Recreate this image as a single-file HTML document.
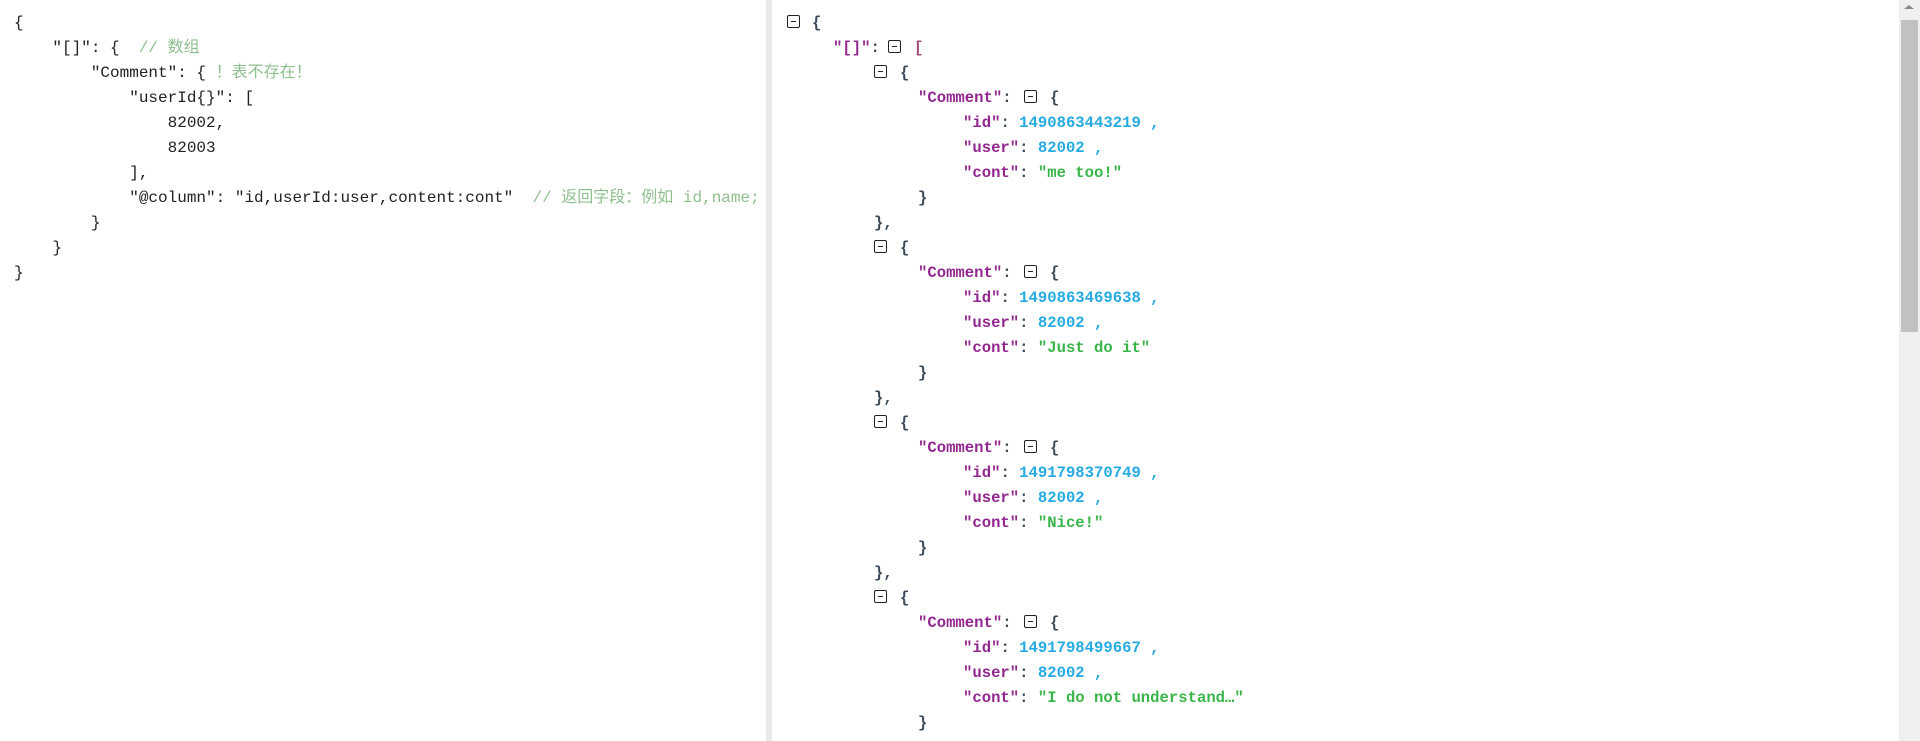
<!DOCTYPE html>
<html><head><meta charset="utf-8"><style>
html,body{margin:0;padding:0;width:1920px;height:741px;overflow:hidden;background:#fff;}
.l{position:absolute;white-space:pre;font-family:"Liberation Mono","Noto Sans CJK SC",monospace;font-size:15.6px;line-height:25px;height:25px;}
#left{position:absolute;left:0;top:0;width:766px;height:741px;overflow:hidden;color:#222;}
#left .l{font-size:16px;}
.c{color:#8fbf8f;}
#div{position:absolute;left:766px;top:0;width:6px;height:741px;background:#e9e9e9;}
#right .l{font-weight:bold;color:#3a4a5a;}
.k{color:#92278f;}.n{color:#25aae2;}.s{color:#3ab54a;}.b{color:#a0507a;}
.t{position:absolute;width:11px;height:11px;border:1px solid #222;border-radius:2px;background:#fff;}
.t:after{content:"";position:absolute;left:3px;top:5px;width:5px;height:1px;background:#222;}
#sb{position:absolute;left:1899px;top:0;width:21px;height:741px;background:#f0f0f0;}
#th{position:absolute;left:1901px;top:20px;width:17px;height:312px;background:#c1c1c1;}
#ar{position:absolute;left:1904px;top:5px;width:0;height:0;border-left:5px solid transparent;border-right:5px solid transparent;border-bottom:4px solid #8a8a8a;}
</style></head><body>
<div id="left">
<div class="l" style="left:14px;top:11px">{</div>
<div class="l" style="left:14px;top:36px">    "[]": {  <span class="c">// 数组</span></div>
<div class="l" style="left:14px;top:61px">        "Comment": { <span class="c">！表不存在！</span></div>
<div class="l" style="left:14px;top:86px">            "userId{}": [</div>
<div class="l" style="left:14px;top:111px">                82002,</div>
<div class="l" style="left:14px;top:136px">                82003</div>
<div class="l" style="left:14px;top:161px">            ],</div>
<div class="l" style="left:14px;top:186px">            "@column": "id,userId:user,content:cont"  <span class="c">// 返回字段：例如 id,name;</span></div>
<div class="l" style="left:14px;top:211px">        }</div>
<div class="l" style="left:14px;top:236px">    }</div>
<div class="l" style="left:14px;top:261px">}</div>
</div>
<div id="div"></div>
<div id="right">
<div class="t" style="left:787px;top:15px"></div>
<div class="l" style="left:812px;top:11px">{</div>
<div class="l" style="left:833px;top:36px"><span class="k">"[]"</span>: </div>
<div class="t" style="left:888px;top:40px"></div>
<div class="l" style="left:914px;top:36px"><span class="b">[</span></div>

<div class="t" style="left:874px;top:65px"></div><div class="l" style="left:900px;top:61px">{</div>
<div class="l" style="left:918px;top:86px"><span class="k">"Comment"</span>: </div><div class="t" style="left:1024px;top:90px"></div><div class="l" style="left:1050px;top:86px">{</div>
<div class="l" style="left:963px;top:111px"><span class="k">"id"</span>: <span class="n">1490863443219 ,</span></div>
<div class="l" style="left:963px;top:136px"><span class="k">"user"</span>: <span class="n">82002 ,</span></div>
<div class="l" style="left:963px;top:161px"><span class="k">"cont"</span>: <span class="s">"me too!"</span></div>
<div class="l" style="left:918px;top:186px">}</div>
<div class="l" style="left:874px;top:211px">},</div>

<div class="t" style="left:874px;top:240px"></div><div class="l" style="left:900px;top:236px">{</div>
<div class="l" style="left:918px;top:261px"><span class="k">"Comment"</span>: </div><div class="t" style="left:1024px;top:265px"></div><div class="l" style="left:1050px;top:261px">{</div>
<div class="l" style="left:963px;top:286px"><span class="k">"id"</span>: <span class="n">1490863469638 ,</span></div>
<div class="l" style="left:963px;top:311px"><span class="k">"user"</span>: <span class="n">82002 ,</span></div>
<div class="l" style="left:963px;top:336px"><span class="k">"cont"</span>: <span class="s">"Just do it"</span></div>
<div class="l" style="left:918px;top:361px">}</div>
<div class="l" style="left:874px;top:386px">},</div>

<div class="t" style="left:874px;top:415px"></div><div class="l" style="left:900px;top:411px">{</div>
<div class="l" style="left:918px;top:436px"><span class="k">"Comment"</span>: </div><div class="t" style="left:1024px;top:440px"></div><div class="l" style="left:1050px;top:436px">{</div>
<div class="l" style="left:963px;top:461px"><span class="k">"id"</span>: <span class="n">1491798370749 ,</span></div>
<div class="l" style="left:963px;top:486px"><span class="k">"user"</span>: <span class="n">82002 ,</span></div>
<div class="l" style="left:963px;top:511px"><span class="k">"cont"</span>: <span class="s">"Nice!"</span></div>
<div class="l" style="left:918px;top:536px">}</div>
<div class="l" style="left:874px;top:561px">},</div>

<div class="t" style="left:874px;top:590px"></div><div class="l" style="left:900px;top:586px">{</div>
<div class="l" style="left:918px;top:611px"><span class="k">"Comment"</span>: </div><div class="t" style="left:1024px;top:615px"></div><div class="l" style="left:1050px;top:611px">{</div>
<div class="l" style="left:963px;top:636px"><span class="k">"id"</span>: <span class="n">1491798499667 ,</span></div>
<div class="l" style="left:963px;top:661px"><span class="k">"user"</span>: <span class="n">82002 ,</span></div>
<div class="l" style="left:963px;top:686px"><span class="k">"cont"</span>: <span class="s">"I do not understand…"</span></div>
<div class="l" style="left:918px;top:711px">}</div>
</div>
<div id="sb"></div><div id="th"></div><div id="ar"></div>
</body></html>
